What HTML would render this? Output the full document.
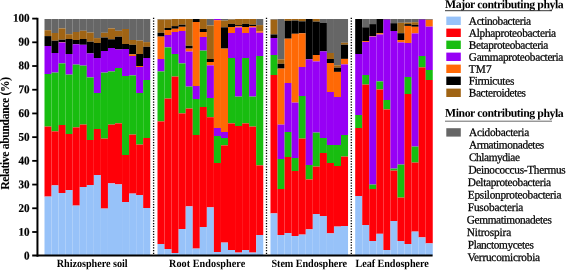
<!DOCTYPE html>
<html lang="en"><head><meta charset="utf-8"><title>Relative abundance of phyla</title>
<style>html,body{margin:0;padding:0;background:#fff}body{width:567px;height:270px;overflow:hidden}</style></head>
<body>
<svg width="567" height="270" viewBox="0 0 567 270" style="display:block">
<rect width="567" height="270" fill="#fff"/>
<g shape-rendering="auto"><rect x="44.50" y="19.00" width="7.05" height="11.20" fill="#666666"/><rect x="44.50" y="30.20" width="7.05" height="5.90" fill="#a06414"/><rect x="44.50" y="36.10" width="7.05" height="9.90" fill="#000000"/><rect x="44.50" y="46.00" width="7.05" height="28.00" fill="#9700f5"/><rect x="44.50" y="74.00" width="7.05" height="52.60" fill="#18bd10"/><rect x="44.50" y="126.60" width="7.05" height="70.00" fill="#ff0008"/><rect x="44.50" y="196.60" width="7.05" height="58.90" fill="#97c2f9"/><rect x="51.55" y="19.00" width="7.05" height="14.00" fill="#666666"/><rect x="51.55" y="33.00" width="7.05" height="7.70" fill="#a06414"/><rect x="51.55" y="40.70" width="7.05" height="12.30" fill="#000000"/><rect x="51.55" y="53.00" width="7.05" height="19.60" fill="#9700f5"/><rect x="51.55" y="72.60" width="7.05" height="58.80" fill="#18bd10"/><rect x="51.55" y="131.40" width="7.05" height="54.00" fill="#ff0008"/><rect x="51.55" y="185.40" width="7.05" height="70.10" fill="#97c2f9"/><rect x="58.60" y="19.00" width="7.05" height="9.40" fill="#666666"/><rect x="58.60" y="28.40" width="7.05" height="11.30" fill="#a06414"/><rect x="58.60" y="39.70" width="7.05" height="2.40" fill="#000000"/><rect x="58.60" y="42.10" width="7.05" height="0.40" fill="#ff6905"/><rect x="58.60" y="42.50" width="7.05" height="20.90" fill="#9700f5"/><rect x="58.60" y="63.40" width="7.05" height="61.60" fill="#18bd10"/><rect x="58.60" y="125.00" width="7.05" height="68.00" fill="#ff0008"/><rect x="58.60" y="193.00" width="7.05" height="62.50" fill="#97c2f9"/><rect x="65.65" y="19.00" width="7.05" height="15.20" fill="#666666"/><rect x="65.65" y="34.20" width="7.05" height="4.80" fill="#a06414"/><rect x="65.65" y="39.00" width="7.05" height="15.00" fill="#000000"/><rect x="65.65" y="54.00" width="7.05" height="20.60" fill="#9700f5"/><rect x="65.65" y="74.60" width="7.05" height="59.40" fill="#18bd10"/><rect x="65.65" y="134.00" width="7.05" height="56.00" fill="#ff0008"/><rect x="65.65" y="190.00" width="7.05" height="65.50" fill="#97c2f9"/><rect x="72.70" y="19.00" width="7.05" height="13.00" fill="#666666"/><rect x="72.70" y="32.00" width="7.05" height="8.00" fill="#a06414"/><rect x="72.70" y="40.00" width="7.05" height="4.30" fill="#000000"/><rect x="72.70" y="44.30" width="7.05" height="20.30" fill="#9700f5"/><rect x="72.70" y="64.60" width="7.05" height="62.80" fill="#18bd10"/><rect x="72.70" y="127.40" width="7.05" height="78.20" fill="#ff0008"/><rect x="72.70" y="205.60" width="7.05" height="49.90" fill="#97c2f9"/><rect x="79.75" y="19.00" width="7.05" height="11.80" fill="#666666"/><rect x="79.75" y="30.80" width="7.05" height="8.20" fill="#a06414"/><rect x="79.75" y="39.00" width="7.05" height="5.80" fill="#000000"/><rect x="79.75" y="44.80" width="7.05" height="20.80" fill="#9700f5"/><rect x="79.75" y="65.60" width="7.05" height="59.00" fill="#18bd10"/><rect x="79.75" y="124.60" width="7.05" height="62.40" fill="#ff0008"/><rect x="79.75" y="187.00" width="7.05" height="68.50" fill="#97c2f9"/><rect x="86.80" y="19.00" width="7.05" height="13.60" fill="#666666"/><rect x="86.80" y="32.60" width="7.05" height="9.10" fill="#a06414"/><rect x="86.80" y="41.70" width="7.05" height="11.70" fill="#000000"/><rect x="86.80" y="53.40" width="7.05" height="24.00" fill="#9700f5"/><rect x="86.80" y="77.40" width="7.05" height="62.60" fill="#18bd10"/><rect x="86.80" y="140.00" width="7.05" height="45.00" fill="#ff0008"/><rect x="86.80" y="185.00" width="7.05" height="70.50" fill="#97c2f9"/><rect x="93.85" y="19.00" width="7.05" height="19.10" fill="#666666"/><rect x="93.85" y="38.10" width="7.05" height="4.90" fill="#a06414"/><rect x="93.85" y="43.00" width="7.05" height="15.00" fill="#000000"/><rect x="93.85" y="58.00" width="7.05" height="35.00" fill="#9700f5"/><rect x="93.85" y="93.00" width="7.05" height="36.00" fill="#18bd10"/><rect x="93.85" y="129.00" width="7.05" height="46.00" fill="#ff0008"/><rect x="93.85" y="175.00" width="7.05" height="80.50" fill="#97c2f9"/><rect x="100.90" y="19.00" width="7.05" height="13.80" fill="#666666"/><rect x="100.90" y="32.80" width="7.05" height="4.70" fill="#a06414"/><rect x="100.90" y="37.50" width="7.05" height="13.50" fill="#000000"/><rect x="100.90" y="51.00" width="7.05" height="21.60" fill="#9700f5"/><rect x="100.90" y="72.60" width="7.05" height="66.00" fill="#18bd10"/><rect x="100.90" y="138.60" width="7.05" height="70.00" fill="#ff0008"/><rect x="100.90" y="208.60" width="7.05" height="46.90" fill="#97c2f9"/><rect x="107.95" y="19.00" width="7.05" height="9.40" fill="#666666"/><rect x="107.95" y="28.40" width="7.05" height="10.90" fill="#a06414"/><rect x="107.95" y="39.30" width="7.05" height="8.70" fill="#000000"/><rect x="107.95" y="48.00" width="7.05" height="23.40" fill="#9700f5"/><rect x="107.95" y="71.40" width="7.05" height="53.20" fill="#18bd10"/><rect x="107.95" y="124.60" width="7.05" height="58.80" fill="#ff0008"/><rect x="107.95" y="183.40" width="7.05" height="72.10" fill="#97c2f9"/><rect x="115.00" y="19.00" width="7.05" height="11.80" fill="#666666"/><rect x="115.00" y="30.80" width="7.05" height="5.90" fill="#a06414"/><rect x="115.00" y="36.70" width="7.05" height="12.80" fill="#000000"/><rect x="115.00" y="49.50" width="7.05" height="18.50" fill="#9700f5"/><rect x="115.00" y="68.00" width="7.05" height="55.40" fill="#18bd10"/><rect x="115.00" y="123.40" width="7.05" height="61.00" fill="#ff0008"/><rect x="115.00" y="184.40" width="7.05" height="71.10" fill="#97c2f9"/><rect x="122.05" y="19.00" width="7.05" height="10.00" fill="#666666"/><rect x="122.05" y="29.00" width="7.05" height="15.00" fill="#a06414"/><rect x="122.05" y="44.00" width="7.05" height="5.00" fill="#000000"/><rect x="122.05" y="49.00" width="7.05" height="27.00" fill="#9700f5"/><rect x="122.05" y="76.00" width="7.05" height="79.00" fill="#18bd10"/><rect x="122.05" y="155.00" width="7.05" height="47.00" fill="#ff0008"/><rect x="122.05" y="202.00" width="7.05" height="53.50" fill="#97c2f9"/><rect x="129.10" y="19.00" width="7.05" height="21.00" fill="#666666"/><rect x="129.10" y="40.00" width="7.05" height="4.80" fill="#a06414"/><rect x="129.10" y="44.80" width="7.05" height="9.60" fill="#000000"/><rect x="129.10" y="54.40" width="7.05" height="1.60" fill="#ff6905"/><rect x="129.10" y="56.00" width="7.05" height="19.40" fill="#9700f5"/><rect x="129.10" y="75.40" width="7.05" height="59.20" fill="#18bd10"/><rect x="129.10" y="134.60" width="7.05" height="59.00" fill="#ff0008"/><rect x="129.10" y="193.60" width="7.05" height="61.90" fill="#97c2f9"/><rect x="136.15" y="19.00" width="7.05" height="21.60" fill="#666666"/><rect x="136.15" y="40.60" width="7.05" height="13.40" fill="#a06414"/><rect x="136.15" y="54.00" width="7.05" height="12.00" fill="#000000"/><rect x="136.15" y="66.00" width="7.05" height="1.00" fill="#ff6905"/><rect x="136.15" y="67.00" width="7.05" height="26.00" fill="#9700f5"/><rect x="136.15" y="93.00" width="7.05" height="51.60" fill="#18bd10"/><rect x="136.15" y="144.60" width="7.05" height="50.40" fill="#ff0008"/><rect x="136.15" y="195.00" width="7.05" height="60.50" fill="#97c2f9"/><rect x="143.20" y="19.00" width="7.05" height="23.10" fill="#666666"/><rect x="143.20" y="42.10" width="7.05" height="4.70" fill="#a06414"/><rect x="143.20" y="46.80" width="7.05" height="11.20" fill="#000000"/><rect x="143.20" y="58.00" width="7.05" height="22.00" fill="#9700f5"/><rect x="143.20" y="80.00" width="7.05" height="58.00" fill="#18bd10"/><rect x="143.20" y="138.00" width="7.05" height="70.00" fill="#ff0008"/><rect x="143.20" y="208.00" width="7.05" height="47.50" fill="#97c2f9"/><rect x="157.50" y="19.00" width="7.05" height="0.60" fill="#666666"/><rect x="157.50" y="19.60" width="7.05" height="13.20" fill="#a06414"/><rect x="157.50" y="32.80" width="7.05" height="3.80" fill="#000000"/><rect x="157.50" y="36.60" width="7.05" height="22.40" fill="#ff6905"/><rect x="157.50" y="59.00" width="7.05" height="12.40" fill="#9700f5"/><rect x="157.50" y="71.40" width="7.05" height="50.00" fill="#18bd10"/><rect x="157.50" y="121.40" width="7.05" height="122.60" fill="#ff0008"/><rect x="157.50" y="244.00" width="7.05" height="11.50" fill="#97c2f9"/><rect x="164.55" y="19.00" width="7.05" height="0.50" fill="#666666"/><rect x="164.55" y="19.50" width="7.05" height="8.50" fill="#a06414"/><rect x="164.55" y="28.00" width="7.05" height="2.00" fill="#000000"/><rect x="164.55" y="30.00" width="7.05" height="5.00" fill="#ff6905"/><rect x="164.55" y="35.00" width="7.05" height="12.40" fill="#9700f5"/><rect x="164.55" y="47.40" width="7.05" height="51.20" fill="#18bd10"/><rect x="164.55" y="98.60" width="7.05" height="150.40" fill="#ff0008"/><rect x="164.55" y="249.00" width="7.05" height="6.50" fill="#97c2f9"/><rect x="171.60" y="19.00" width="7.05" height="7.10" fill="#a06414"/><rect x="171.60" y="26.10" width="7.05" height="2.70" fill="#000000"/><rect x="171.60" y="28.80" width="7.05" height="3.20" fill="#ff6905"/><rect x="171.60" y="32.00" width="7.05" height="22.00" fill="#9700f5"/><rect x="171.60" y="54.00" width="7.05" height="22.60" fill="#18bd10"/><rect x="171.60" y="76.60" width="7.05" height="176.40" fill="#ff0008"/><rect x="171.60" y="253.00" width="7.05" height="2.50" fill="#97c2f9"/><rect x="178.65" y="19.00" width="7.05" height="5.70" fill="#a06414"/><rect x="178.65" y="24.70" width="7.05" height="2.10" fill="#000000"/><rect x="178.65" y="26.80" width="7.05" height="4.20" fill="#ff6905"/><rect x="178.65" y="31.00" width="7.05" height="32.40" fill="#9700f5"/><rect x="178.65" y="63.40" width="7.05" height="50.00" fill="#18bd10"/><rect x="178.65" y="113.40" width="7.05" height="115.60" fill="#ff0008"/><rect x="178.65" y="229.00" width="7.05" height="26.50" fill="#97c2f9"/><rect x="185.70" y="19.00" width="7.05" height="26.80" fill="#a06414"/><rect x="185.70" y="45.80" width="7.05" height="2.80" fill="#000000"/><rect x="185.70" y="48.60" width="7.05" height="3.00" fill="#ff6905"/><rect x="185.70" y="51.60" width="7.05" height="35.00" fill="#9700f5"/><rect x="185.70" y="86.60" width="7.05" height="22.00" fill="#18bd10"/><rect x="185.70" y="108.60" width="7.05" height="97.80" fill="#ff0008"/><rect x="185.70" y="206.40" width="7.05" height="49.10" fill="#97c2f9"/><rect x="192.75" y="19.00" width="7.05" height="3.00" fill="#000000"/><rect x="192.75" y="22.00" width="7.05" height="64.00" fill="#ff6905"/><rect x="192.75" y="86.00" width="7.05" height="13.00" fill="#9700f5"/><rect x="192.75" y="99.00" width="7.05" height="36.00" fill="#18bd10"/><rect x="192.75" y="135.00" width="7.05" height="113.60" fill="#ff0008"/><rect x="192.75" y="248.60" width="7.05" height="6.90" fill="#97c2f9"/><rect x="199.80" y="19.00" width="7.05" height="10.00" fill="#a06414"/><rect x="199.80" y="29.00" width="7.05" height="3.00" fill="#000000"/><rect x="199.80" y="32.00" width="7.05" height="5.00" fill="#ff6905"/><rect x="199.80" y="37.00" width="7.05" height="13.60" fill="#9700f5"/><rect x="199.80" y="50.60" width="7.05" height="56.40" fill="#18bd10"/><rect x="199.80" y="107.00" width="7.05" height="120.00" fill="#ff0008"/><rect x="199.80" y="227.00" width="7.05" height="28.50" fill="#97c2f9"/><rect x="206.85" y="19.00" width="7.05" height="6.40" fill="#666666"/><rect x="206.85" y="25.40" width="7.05" height="33.60" fill="#a06414"/><rect x="206.85" y="59.00" width="7.05" height="3.00" fill="#000000"/><rect x="206.85" y="62.00" width="7.05" height="3.40" fill="#ff6905"/><rect x="206.85" y="65.40" width="7.05" height="32.60" fill="#9700f5"/><rect x="206.85" y="98.00" width="7.05" height="19.20" fill="#18bd10"/><rect x="206.85" y="117.20" width="7.05" height="90.20" fill="#ff0008"/><rect x="206.85" y="207.40" width="7.05" height="48.10" fill="#97c2f9"/><rect x="213.90" y="19.00" width="7.05" height="1.20" fill="#9700f5"/><rect x="213.90" y="20.20" width="7.05" height="107.80" fill="#ff6905"/><rect x="213.90" y="128.00" width="7.05" height="8.00" fill="#9700f5"/><rect x="213.90" y="136.00" width="7.05" height="27.00" fill="#18bd10"/><rect x="213.90" y="163.00" width="7.05" height="89.00" fill="#ff0008"/><rect x="213.90" y="252.00" width="7.05" height="3.50" fill="#97c2f9"/><rect x="220.95" y="19.00" width="7.05" height="1.60" fill="#666666"/><rect x="220.95" y="20.60" width="7.05" height="6.70" fill="#a06414"/><rect x="220.95" y="27.30" width="7.05" height="21.30" fill="#000000"/><rect x="220.95" y="48.60" width="7.05" height="83.40" fill="#ff6905"/><rect x="220.95" y="132.00" width="7.05" height="6.00" fill="#9700f5"/><rect x="220.95" y="138.00" width="7.05" height="7.40" fill="#18bd10"/><rect x="220.95" y="145.40" width="7.05" height="97.20" fill="#ff0008"/><rect x="220.95" y="242.60" width="7.05" height="12.90" fill="#97c2f9"/><rect x="228.00" y="19.00" width="7.05" height="0.60" fill="#666666"/><rect x="228.00" y="19.60" width="7.05" height="4.30" fill="#a06414"/><rect x="228.00" y="23.90" width="7.05" height="3.10" fill="#000000"/><rect x="228.00" y="27.00" width="7.05" height="6.00" fill="#ff6905"/><rect x="228.00" y="33.00" width="7.05" height="25.00" fill="#9700f5"/><rect x="228.00" y="58.00" width="7.05" height="65.40" fill="#18bd10"/><rect x="228.00" y="123.40" width="7.05" height="126.60" fill="#ff0008"/><rect x="228.00" y="250.00" width="7.05" height="5.50" fill="#97c2f9"/><rect x="235.05" y="19.00" width="7.05" height="6.10" fill="#a06414"/><rect x="235.05" y="25.10" width="7.05" height="1.10" fill="#000000"/><rect x="235.05" y="26.20" width="7.05" height="1.30" fill="#ff6905"/><rect x="235.05" y="27.50" width="7.05" height="69.10" fill="#9700f5"/><rect x="235.05" y="96.60" width="7.05" height="29.40" fill="#18bd10"/><rect x="235.05" y="126.00" width="7.05" height="126.60" fill="#ff0008"/><rect x="235.05" y="252.60" width="7.05" height="2.90" fill="#97c2f9"/><rect x="242.10" y="19.00" width="7.05" height="4.90" fill="#a06414"/><rect x="242.10" y="23.90" width="7.05" height="3.10" fill="#000000"/><rect x="242.10" y="27.00" width="7.05" height="6.00" fill="#ff6905"/><rect x="242.10" y="33.00" width="7.05" height="25.00" fill="#9700f5"/><rect x="242.10" y="58.00" width="7.05" height="65.40" fill="#18bd10"/><rect x="242.10" y="123.40" width="7.05" height="126.60" fill="#ff0008"/><rect x="242.10" y="250.00" width="7.05" height="5.50" fill="#97c2f9"/><rect x="249.15" y="19.00" width="7.05" height="5.70" fill="#a06414"/><rect x="249.15" y="24.70" width="7.05" height="1.30" fill="#000000"/><rect x="249.15" y="26.00" width="7.05" height="1.50" fill="#ff6905"/><rect x="249.15" y="27.50" width="7.05" height="69.10" fill="#9700f5"/><rect x="249.15" y="96.60" width="7.05" height="30.00" fill="#18bd10"/><rect x="249.15" y="126.60" width="7.05" height="126.00" fill="#ff0008"/><rect x="249.15" y="252.60" width="7.05" height="2.90" fill="#97c2f9"/><rect x="256.20" y="19.00" width="7.05" height="6.10" fill="#666666"/><rect x="256.20" y="25.10" width="7.05" height="6.20" fill="#a06414"/><rect x="256.20" y="31.30" width="7.05" height="1.50" fill="#ff6905"/><rect x="256.20" y="32.80" width="7.05" height="23.20" fill="#9700f5"/><rect x="256.20" y="56.00" width="7.05" height="109.40" fill="#18bd10"/><rect x="256.20" y="165.40" width="7.05" height="69.60" fill="#ff0008"/><rect x="256.20" y="235.00" width="7.05" height="20.50" fill="#97c2f9"/><rect x="270.50" y="19.00" width="7.05" height="0.70" fill="#666666"/><rect x="270.50" y="19.70" width="7.05" height="14.70" fill="#a06414"/><rect x="270.50" y="34.40" width="7.05" height="3.60" fill="#000000"/><rect x="270.50" y="38.00" width="7.05" height="17.00" fill="#9700f5"/><rect x="270.50" y="55.00" width="7.05" height="20.00" fill="#18bd10"/><rect x="270.50" y="75.00" width="7.05" height="138.40" fill="#ff0008"/><rect x="270.50" y="213.40" width="7.05" height="42.10" fill="#97c2f9"/><rect x="277.55" y="19.00" width="7.05" height="40.30" fill="#666666"/><rect x="277.55" y="59.30" width="7.05" height="4.50" fill="#a06414"/><rect x="277.55" y="63.80" width="7.05" height="4.80" fill="#000000"/><rect x="277.55" y="68.60" width="7.05" height="56.00" fill="#ff6905"/><rect x="277.55" y="124.60" width="7.05" height="34.40" fill="#9700f5"/><rect x="277.55" y="159.00" width="7.05" height="30.00" fill="#18bd10"/><rect x="277.55" y="189.00" width="7.05" height="46.00" fill="#ff0008"/><rect x="277.55" y="235.00" width="7.05" height="20.50" fill="#97c2f9"/><rect x="284.60" y="19.00" width="7.05" height="1.80" fill="#a06414"/><rect x="284.60" y="20.80" width="7.05" height="17.90" fill="#000000"/><rect x="284.60" y="38.70" width="7.05" height="44.30" fill="#ff6905"/><rect x="284.60" y="83.00" width="7.05" height="49.00" fill="#9700f5"/><rect x="284.60" y="132.00" width="7.05" height="25.00" fill="#18bd10"/><rect x="284.60" y="157.00" width="7.05" height="76.00" fill="#ff0008"/><rect x="284.60" y="233.00" width="7.05" height="22.50" fill="#97c2f9"/><rect x="291.65" y="19.00" width="7.05" height="1.50" fill="#a06414"/><rect x="291.65" y="20.50" width="7.05" height="13.30" fill="#000000"/><rect x="291.65" y="33.80" width="7.05" height="68.80" fill="#ff6905"/><rect x="291.65" y="102.60" width="7.05" height="55.40" fill="#9700f5"/><rect x="291.65" y="158.00" width="7.05" height="13.00" fill="#18bd10"/><rect x="291.65" y="171.00" width="7.05" height="65.00" fill="#ff0008"/><rect x="291.65" y="236.00" width="7.05" height="19.50" fill="#97c2f9"/><rect x="298.70" y="19.00" width="7.05" height="2.30" fill="#a06414"/><rect x="298.70" y="21.30" width="7.05" height="12.00" fill="#000000"/><rect x="298.70" y="33.30" width="7.05" height="33.70" fill="#ff6905"/><rect x="298.70" y="67.00" width="7.05" height="29.00" fill="#9700f5"/><rect x="298.70" y="96.00" width="7.05" height="42.60" fill="#18bd10"/><rect x="298.70" y="138.60" width="7.05" height="96.00" fill="#ff0008"/><rect x="298.70" y="234.60" width="7.05" height="20.90" fill="#97c2f9"/><rect x="305.75" y="19.00" width="7.05" height="40.40" fill="#000000"/><rect x="305.75" y="59.40" width="7.05" height="105.60" fill="#9700f5"/><rect x="305.75" y="165.00" width="7.05" height="14.40" fill="#18bd10"/><rect x="305.75" y="179.40" width="7.05" height="50.00" fill="#ff0008"/><rect x="305.75" y="229.40" width="7.05" height="26.10" fill="#97c2f9"/><rect x="312.80" y="19.00" width="7.05" height="2.60" fill="#a06414"/><rect x="312.80" y="21.60" width="7.05" height="33.40" fill="#000000"/><rect x="312.80" y="55.00" width="7.05" height="6.40" fill="#ff6905"/><rect x="312.80" y="61.40" width="7.05" height="71.20" fill="#9700f5"/><rect x="312.80" y="132.60" width="7.05" height="34.00" fill="#18bd10"/><rect x="312.80" y="166.60" width="7.05" height="47.40" fill="#ff0008"/><rect x="312.80" y="214.00" width="7.05" height="41.50" fill="#97c2f9"/><rect x="319.85" y="19.00" width="7.05" height="3.70" fill="#666666"/><rect x="319.85" y="22.70" width="7.05" height="28.70" fill="#000000"/><rect x="319.85" y="51.40" width="7.05" height="86.60" fill="#9700f5"/><rect x="319.85" y="138.00" width="7.05" height="15.00" fill="#18bd10"/><rect x="319.85" y="153.00" width="7.05" height="63.00" fill="#ff0008"/><rect x="319.85" y="216.00" width="7.05" height="39.50" fill="#97c2f9"/><rect x="326.90" y="19.00" width="7.05" height="34.00" fill="#666666"/><rect x="326.90" y="53.00" width="7.05" height="6.00" fill="#a06414"/><rect x="326.90" y="59.00" width="7.05" height="4.00" fill="#000000"/><rect x="326.90" y="63.00" width="7.05" height="29.00" fill="#ff6905"/><rect x="326.90" y="92.00" width="7.05" height="53.00" fill="#9700f5"/><rect x="326.90" y="145.00" width="7.05" height="18.00" fill="#18bd10"/><rect x="326.90" y="163.00" width="7.05" height="70.40" fill="#ff0008"/><rect x="326.90" y="233.40" width="7.05" height="22.10" fill="#97c2f9"/><rect x="333.95" y="19.00" width="7.05" height="46.30" fill="#666666"/><rect x="333.95" y="65.30" width="7.05" height="2.40" fill="#a06414"/><rect x="333.95" y="67.70" width="7.05" height="4.20" fill="#000000"/><rect x="333.95" y="71.90" width="7.05" height="25.10" fill="#ff6905"/><rect x="333.95" y="97.00" width="7.05" height="48.00" fill="#9700f5"/><rect x="333.95" y="145.00" width="7.05" height="21.00" fill="#18bd10"/><rect x="333.95" y="166.00" width="7.05" height="60.60" fill="#ff0008"/><rect x="333.95" y="226.60" width="7.05" height="28.90" fill="#97c2f9"/><rect x="341.00" y="19.00" width="7.05" height="23.80" fill="#666666"/><rect x="341.00" y="42.80" width="7.05" height="1.90" fill="#a06414"/><rect x="341.00" y="44.70" width="7.05" height="14.20" fill="#000000"/><rect x="341.00" y="58.90" width="7.05" height="5.50" fill="#ff6905"/><rect x="341.00" y="64.40" width="7.05" height="70.60" fill="#9700f5"/><rect x="341.00" y="135.00" width="7.05" height="21.60" fill="#18bd10"/><rect x="341.00" y="156.60" width="7.05" height="69.40" fill="#ff0008"/><rect x="341.00" y="226.00" width="7.05" height="29.50" fill="#97c2f9"/><rect x="355.20" y="19.00" width="7.05" height="35.00" fill="#000000"/><rect x="355.20" y="54.00" width="7.05" height="61.00" fill="#9700f5"/><rect x="355.20" y="115.00" width="7.05" height="13.00" fill="#18bd10"/><rect x="355.20" y="128.00" width="7.05" height="68.00" fill="#ff0008"/><rect x="355.20" y="196.00" width="7.05" height="59.50" fill="#97c2f9"/><rect x="362.25" y="19.00" width="7.05" height="8.30" fill="#666666"/><rect x="362.25" y="27.30" width="7.05" height="13.80" fill="#000000"/><rect x="362.25" y="41.10" width="7.05" height="0.90" fill="#ff6905"/><rect x="362.25" y="42.00" width="7.05" height="33.00" fill="#9700f5"/><rect x="362.25" y="75.00" width="7.05" height="9.60" fill="#18bd10"/><rect x="362.25" y="84.60" width="7.05" height="140.40" fill="#ff0008"/><rect x="362.25" y="225.00" width="7.05" height="30.50" fill="#97c2f9"/><rect x="369.30" y="19.00" width="7.05" height="5.10" fill="#666666"/><rect x="369.30" y="24.10" width="7.05" height="11.90" fill="#000000"/><rect x="369.30" y="36.00" width="7.05" height="0.60" fill="#ff6905"/><rect x="369.30" y="36.60" width="7.05" height="148.00" fill="#9700f5"/><rect x="369.30" y="184.60" width="7.05" height="4.40" fill="#18bd10"/><rect x="369.30" y="189.00" width="7.05" height="52.00" fill="#ff0008"/><rect x="369.30" y="241.00" width="7.05" height="14.50" fill="#97c2f9"/><rect x="376.35" y="19.00" width="7.05" height="14.20" fill="#000000"/><rect x="376.35" y="33.20" width="7.05" height="1.30" fill="#ff6905"/><rect x="376.35" y="34.50" width="7.05" height="46.90" fill="#9700f5"/><rect x="376.35" y="81.40" width="7.05" height="8.10" fill="#18bd10"/><rect x="376.35" y="89.50" width="7.05" height="144.30" fill="#ff0008"/><rect x="376.35" y="233.80" width="7.05" height="21.70" fill="#97c2f9"/><rect x="383.40" y="19.00" width="7.05" height="0.60" fill="#000000"/><rect x="383.40" y="19.60" width="7.05" height="80.40" fill="#9700f5"/><rect x="383.40" y="100.00" width="7.05" height="9.40" fill="#18bd10"/><rect x="383.40" y="109.40" width="7.05" height="140.60" fill="#ff0008"/><rect x="383.40" y="250.00" width="7.05" height="5.50" fill="#97c2f9"/><rect x="390.45" y="19.00" width="7.05" height="4.20" fill="#666666"/><rect x="390.45" y="23.20" width="7.05" height="7.80" fill="#000000"/><rect x="390.45" y="31.00" width="7.05" height="137.60" fill="#9700f5"/><rect x="390.45" y="168.60" width="7.05" height="2.00" fill="#18bd10"/><rect x="390.45" y="170.60" width="7.05" height="50.40" fill="#ff0008"/><rect x="390.45" y="221.00" width="7.05" height="34.50" fill="#97c2f9"/><rect x="397.50" y="19.00" width="7.05" height="3.80" fill="#666666"/><rect x="397.50" y="22.80" width="7.05" height="10.40" fill="#a06414"/><rect x="397.50" y="33.20" width="7.05" height="6.80" fill="#000000"/><rect x="397.50" y="40.00" width="7.05" height="2.40" fill="#ff6905"/><rect x="397.50" y="42.40" width="7.05" height="122.20" fill="#9700f5"/><rect x="397.50" y="164.60" width="7.05" height="33.00" fill="#18bd10"/><rect x="397.50" y="197.60" width="7.05" height="43.40" fill="#ff0008"/><rect x="397.50" y="241.00" width="7.05" height="14.50" fill="#97c2f9"/><rect x="404.55" y="19.00" width="7.05" height="3.60" fill="#666666"/><rect x="404.55" y="22.60" width="7.05" height="1.50" fill="#a06414"/><rect x="404.55" y="24.10" width="7.05" height="1.80" fill="#000000"/><rect x="404.55" y="25.90" width="7.05" height="17.10" fill="#ff6905"/><rect x="404.55" y="43.00" width="7.05" height="34.00" fill="#9700f5"/><rect x="404.55" y="77.00" width="7.05" height="17.00" fill="#18bd10"/><rect x="404.55" y="94.00" width="7.05" height="150.00" fill="#ff0008"/><rect x="404.55" y="244.00" width="7.05" height="11.50" fill="#97c2f9"/><rect x="411.60" y="19.00" width="7.05" height="3.20" fill="#666666"/><rect x="411.60" y="22.20" width="7.05" height="2.70" fill="#a06414"/><rect x="411.60" y="24.90" width="7.05" height="1.90" fill="#000000"/><rect x="411.60" y="26.80" width="7.05" height="6.60" fill="#ff6905"/><rect x="411.60" y="33.40" width="7.05" height="113.20" fill="#9700f5"/><rect x="411.60" y="146.60" width="7.05" height="16.00" fill="#18bd10"/><rect x="411.60" y="162.60" width="7.05" height="69.00" fill="#ff0008"/><rect x="411.60" y="231.60" width="7.05" height="23.90" fill="#97c2f9"/><rect x="418.65" y="19.00" width="7.05" height="0.60" fill="#000000"/><rect x="418.65" y="19.60" width="7.05" height="36.40" fill="#9700f5"/><rect x="418.65" y="56.00" width="7.05" height="11.40" fill="#18bd10"/><rect x="418.65" y="67.40" width="7.05" height="170.00" fill="#ff0008"/><rect x="418.65" y="237.40" width="7.05" height="18.10" fill="#97c2f9"/><rect x="425.70" y="19.00" width="7.05" height="0.80" fill="#666666"/><rect x="425.70" y="19.80" width="7.05" height="6.80" fill="#ff6905"/><rect x="425.70" y="26.60" width="7.05" height="43.40" fill="#9700f5"/><rect x="425.70" y="70.00" width="7.05" height="10.00" fill="#18bd10"/><rect x="425.70" y="80.00" width="7.05" height="163.40" fill="#ff0008"/><rect x="425.70" y="243.40" width="7.05" height="12.10" fill="#97c2f9"/></g>
<line x1="153.6" y1="17.8" x2="153.6" y2="254" stroke="#000" stroke-width="1.3" stroke-dasharray="1.2 1.5"/>
<line x1="266.5" y1="17.8" x2="266.5" y2="254" stroke="#000" stroke-width="1.3" stroke-dasharray="1.2 1.5"/>
<line x1="351.3" y1="17.8" x2="351.3" y2="254" stroke="#000" stroke-width="1.3" stroke-dasharray="1.2 1.5"/>
<line x1="37.45" y1="17.8" x2="37.45" y2="256.7" stroke="#000" stroke-width="2.0"/>
<line x1="32.2" y1="255.5" x2="432.6" y2="255.5" stroke="#000" stroke-width="2.1"/>
<text transform="translate(29.6,259.60) rotate(0.05) scale(1,1.06)" text-anchor="end" font-family="'Liberation Serif', 'Times New Roman', serif" font-weight="bold" font-size="11.1" stroke="#000" stroke-width="0.2">0</text>
<line x1="32.2" y1="231.99" x2="37.2" y2="231.99" stroke="#000" stroke-width="1.8"/>
<text transform="translate(29.6,235.82) rotate(0.05) scale(1,1.06)" text-anchor="end" font-family="'Liberation Serif', 'Times New Roman', serif" font-weight="bold" font-size="11.1" stroke="#000" stroke-width="0.2">10</text>
<line x1="32.2" y1="208.28" x2="37.2" y2="208.28" stroke="#000" stroke-width="1.8"/>
<text transform="translate(29.6,212.04) rotate(0.05) scale(1,1.06)" text-anchor="end" font-family="'Liberation Serif', 'Times New Roman', serif" font-weight="bold" font-size="11.1" stroke="#000" stroke-width="0.2">20</text>
<line x1="32.2" y1="184.57" x2="37.2" y2="184.57" stroke="#000" stroke-width="1.8"/>
<text transform="translate(29.6,188.26) rotate(0.05) scale(1,1.06)" text-anchor="end" font-family="'Liberation Serif', 'Times New Roman', serif" font-weight="bold" font-size="11.1" stroke="#000" stroke-width="0.2">30</text>
<line x1="32.2" y1="160.86" x2="37.2" y2="160.86" stroke="#000" stroke-width="1.8"/>
<text transform="translate(29.6,164.48) rotate(0.05) scale(1,1.06)" text-anchor="end" font-family="'Liberation Serif', 'Times New Roman', serif" font-weight="bold" font-size="11.1" stroke="#000" stroke-width="0.2">40</text>
<line x1="32.2" y1="137.15" x2="37.2" y2="137.15" stroke="#000" stroke-width="1.8"/>
<text transform="translate(29.6,140.70) rotate(0.05) scale(1,1.06)" text-anchor="end" font-family="'Liberation Serif', 'Times New Roman', serif" font-weight="bold" font-size="11.1" stroke="#000" stroke-width="0.2">50</text>
<line x1="32.2" y1="113.44" x2="37.2" y2="113.44" stroke="#000" stroke-width="1.8"/>
<text transform="translate(29.6,116.92) rotate(0.05) scale(1,1.06)" text-anchor="end" font-family="'Liberation Serif', 'Times New Roman', serif" font-weight="bold" font-size="11.1" stroke="#000" stroke-width="0.2">60</text>
<line x1="32.2" y1="89.73" x2="37.2" y2="89.73" stroke="#000" stroke-width="1.8"/>
<text transform="translate(29.6,93.14) rotate(0.05) scale(1,1.06)" text-anchor="end" font-family="'Liberation Serif', 'Times New Roman', serif" font-weight="bold" font-size="11.1" stroke="#000" stroke-width="0.2">70</text>
<line x1="32.2" y1="66.02" x2="37.2" y2="66.02" stroke="#000" stroke-width="1.8"/>
<text transform="translate(29.6,69.36) rotate(0.05) scale(1,1.06)" text-anchor="end" font-family="'Liberation Serif', 'Times New Roman', serif" font-weight="bold" font-size="11.1" stroke="#000" stroke-width="0.2">80</text>
<line x1="32.2" y1="42.31" x2="37.2" y2="42.31" stroke="#000" stroke-width="1.8"/>
<text transform="translate(29.6,45.58) rotate(0.05) scale(1,1.06)" text-anchor="end" font-family="'Liberation Serif', 'Times New Roman', serif" font-weight="bold" font-size="11.1" stroke="#000" stroke-width="0.2">90</text>
<line x1="32.2" y1="18.60" x2="37.2" y2="18.60" stroke="#000" stroke-width="1.8"/>
<text transform="translate(29.6,21.80) rotate(0.05) scale(1,1.06)" text-anchor="end" font-family="'Liberation Serif', 'Times New Roman', serif" font-weight="bold" font-size="11.1" stroke="#000" stroke-width="0.2">100</text>
<text transform="translate(9.0,189.8) rotate(-90) scale(1,1.0)" font-family="'Liberation Serif', 'Times New Roman', serif" font-weight="bold" font-size="11.6" textLength="113.0" lengthAdjust="spacing" stroke="#000" stroke-width="0.1">Relative abundance (%)</text>
<text transform="translate(56.70,266.90) rotate(0.05) scale(1.0000,1.0900)" font-family="'Liberation Serif', 'Times New Roman', serif" font-weight="bold" font-size="10.2" textLength="70.90" lengthAdjust="spacing">Rhizosphere soil</text>
<text transform="translate(169.00,266.90) rotate(0.05) scale(1.0000,1.0900)" font-family="'Liberation Serif', 'Times New Roman', serif" font-weight="bold" font-size="10.2" textLength="76.20" lengthAdjust="spacing">Root Endosphere</text>
<text transform="translate(271.50,266.90) rotate(0.05) scale(1.0000,1.0900)" font-family="'Liberation Serif', 'Times New Roman', serif" font-weight="bold" font-size="10.2" textLength="75.50" lengthAdjust="spacing">Stem Endosphere</text>
<text transform="translate(355.60,266.90) rotate(0.05) scale(1.0000,1.0900)" font-family="'Liberation Serif', 'Times New Roman', serif" font-weight="bold" font-size="10.2" textLength="73.20" lengthAdjust="spacing">Leaf Endosphere</text>
<text transform="translate(445.00,8.10) rotate(0.05) scale(1.0000,1.0000)" font-family="'Liberation Serif', 'Times New Roman', serif" font-weight="bold" font-size="11.8" textLength="118.70" lengthAdjust="spacing">Major contributing phyla</text>
<line x1="445" y1="10.7" x2="552" y2="10.7" stroke="#222" stroke-width="0.9"/>
<rect x="446.3" y="16.60" width="14.5" height="8.4" fill="#97c2f9"/>
<text transform="translate(468.80,24.80) rotate(0.05) scale(1.0000,1.0200)" font-family="'Liberation Serif', 'Times New Roman', serif" font-size="11.3" textLength="62.30" lengthAdjust="spacing" stroke="#000" stroke-width="0.25">Actinobacteria</text>
<rect x="446.3" y="28.60" width="14.5" height="8.4" fill="#ff0008"/>
<text transform="translate(468.80,36.76) rotate(0.05) scale(1.0000,1.0200)" font-family="'Liberation Serif', 'Times New Roman', serif" font-size="11.3" textLength="87.30" lengthAdjust="spacing" stroke="#000" stroke-width="0.25">Alphaproteobacteria</text>
<rect x="446.3" y="40.60" width="14.5" height="8.4" fill="#18bd10"/>
<text transform="translate(468.80,48.72) rotate(0.05) scale(1.0000,1.0200)" font-family="'Liberation Serif', 'Times New Roman', serif" font-size="11.3" textLength="79.60" lengthAdjust="spacing" stroke="#000" stroke-width="0.25">Betaproteobacteria</text>
<rect x="446.3" y="52.60" width="14.5" height="8.4" fill="#9700f5"/>
<text transform="translate(468.80,60.68) rotate(0.05) scale(1.0000,1.0200)" font-family="'Liberation Serif', 'Times New Roman', serif" font-size="11.3" textLength="94.60" lengthAdjust="spacing" stroke="#000" stroke-width="0.25">Gammaproteobacteria</text>
<rect x="446.3" y="64.60" width="14.5" height="8.4" fill="#ff6905"/>
<text transform="translate(468.80,72.64) rotate(0.05) scale(1.0000,1.0200)" font-family="'Liberation Serif', 'Times New Roman', serif" font-size="11.3" textLength="22.90" lengthAdjust="spacing" stroke="#000" stroke-width="0.25">TM7</text>
<rect x="446.3" y="76.60" width="14.5" height="8.4" fill="#000000"/>
<text transform="translate(468.80,84.60) rotate(0.05) scale(1.0000,1.0200)" font-family="'Liberation Serif', 'Times New Roman', serif" font-size="11.3" textLength="45.50" lengthAdjust="spacing" stroke="#000" stroke-width="0.25">Firmicutes</text>
<rect x="446.3" y="88.60" width="14.5" height="8.4" fill="#a06414"/>
<text transform="translate(468.80,96.56) rotate(0.05) scale(1.0000,1.0200)" font-family="'Liberation Serif', 'Times New Roman', serif" font-size="11.3" textLength="57.20" lengthAdjust="spacing" stroke="#000" stroke-width="0.25">Bacteroidetes</text>
<text transform="translate(445.00,116.80) rotate(0.05) scale(1.0000,1.0000)" font-family="'Liberation Serif', 'Times New Roman', serif" font-weight="bold" font-size="11.8" textLength="118.70" lengthAdjust="spacing">Minor contributing phyla</text>
<line x1="445" y1="121.2" x2="552" y2="121.2" stroke="#444" stroke-width="0.8"/>
<rect x="446.3" y="128.2" width="14.5" height="8.4" fill="#666666"/>
<text transform="translate(469.00,136.00) rotate(0.05) scale(1.0000,1.0200)" font-family="'Liberation Serif', 'Times New Roman', serif" font-size="11.3" textLength="60.20" lengthAdjust="spacing" stroke="#000" stroke-width="0.25">Acidobacteria</text>
<text transform="translate(469.00,148.50) rotate(0.05) scale(1.0000,1.0200)" font-family="'Liberation Serif', 'Times New Roman', serif" font-size="11.3" textLength="75.20" lengthAdjust="spacing" stroke="#000" stroke-width="0.25">Armatimonadetes</text>
<text transform="translate(469.00,161.00) rotate(0.05) scale(1.0000,1.0200)" font-family="'Liberation Serif', 'Times New Roman', serif" font-size="11.3" textLength="51.00" lengthAdjust="spacing" stroke="#000" stroke-width="0.25">Chlamydiae</text>
<text transform="translate(468.50,173.50) rotate(0.05) scale(1.0000,1.0200)" font-family="'Liberation Serif', 'Times New Roman', serif" font-size="11.3" textLength="97.20" lengthAdjust="spacing" stroke="#000" stroke-width="0.25">Deinococcus-Thermus</text>
<text transform="translate(467.80,186.00) rotate(0.05) scale(1.0000,1.0200)" font-family="'Liberation Serif', 'Times New Roman', serif" font-size="11.3" textLength="83.30" lengthAdjust="spacing" stroke="#000" stroke-width="0.25">Deltaproteobacteria</text>
<text transform="translate(467.80,198.50) rotate(0.05) scale(1.0000,1.0200)" font-family="'Liberation Serif', 'Times New Roman', serif" font-size="11.3" textLength="93.70" lengthAdjust="spacing" stroke="#000" stroke-width="0.25">Epsilonproteobacteria</text>
<text transform="translate(467.80,211.00) rotate(0.05) scale(1.0000,1.0200)" font-family="'Liberation Serif', 'Times New Roman', serif" font-size="11.3" textLength="55.60" lengthAdjust="spacing" stroke="#000" stroke-width="0.25">Fusobacteria</text>
<text transform="translate(466.70,223.50) rotate(0.05) scale(1.0000,1.0200)" font-family="'Liberation Serif', 'Times New Roman', serif" font-size="11.3" textLength="85.20" lengthAdjust="spacing" stroke="#000" stroke-width="0.25">Gemmatimonadetes</text>
<text transform="translate(466.70,236.00) rotate(0.05) scale(1.0000,1.0200)" font-family="'Liberation Serif', 'Times New Roman', serif" font-size="11.3" textLength="44.50" lengthAdjust="spacing" stroke="#000" stroke-width="0.25">Nitrospira</text>
<text transform="translate(467.80,248.50) rotate(0.05) scale(1.0000,1.0200)" font-family="'Liberation Serif', 'Times New Roman', serif" font-size="11.3" textLength="66.00" lengthAdjust="spacing" stroke="#000" stroke-width="0.25">Planctomycetes</text>
<text transform="translate(467.40,261.00) rotate(0.05) scale(1.0000,1.0200)" font-family="'Liberation Serif', 'Times New Roman', serif" font-size="11.3" textLength="72.70" lengthAdjust="spacing" stroke="#000" stroke-width="0.25">Verrucomicrobia</text>
</svg>
</body></html>
